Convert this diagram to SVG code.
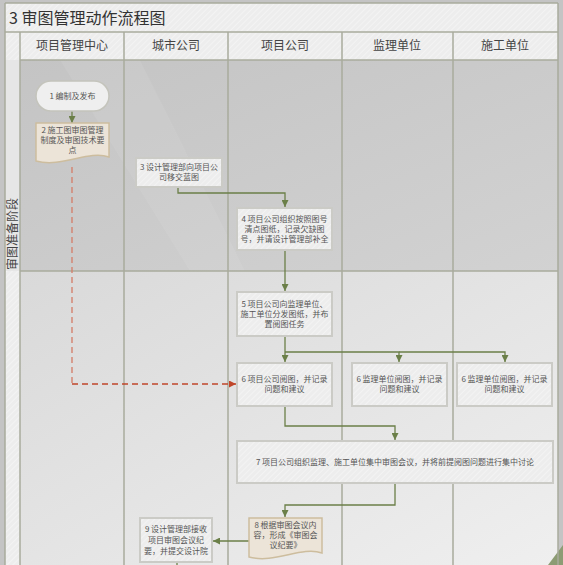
<svg xmlns="http://www.w3.org/2000/svg" width="563" height="565" viewBox="0 0 563 565">
<defs>
  <pattern id="hatch" width="4" height="4" patternUnits="userSpaceOnUse" patternTransform="rotate(45)">
    <rect width="4" height="4" fill="#ededed"/>
    <line x1="0" y1="0" x2="0" y2="4" stroke="#f6f6f6" stroke-width="1.5"/>
  </pattern>
  <linearGradient id="gTop" x1="0" y1="0" x2="1" y2="1">
    <stop offset="0" stop-color="#c4c4c4"/>
    <stop offset="1" stop-color="#d2d2d2"/>
  </linearGradient>
  <linearGradient id="gBot" x1="0" y1="0" x2="1" y2="1">
    <stop offset="0" stop-color="#d9d9d9"/>
    <stop offset="1" stop-color="#efefef"/>
  </linearGradient>
  <marker id="arr" viewBox="0 0 10 10" refX="10" refY="5" markerWidth="7" markerHeight="7" orient="auto" markerUnits="userSpaceOnUse">
    <path d="M0,0 L10,5 L0,10 Z" fill="#6b7f48"/>
  </marker>
  <marker id="arrRed" viewBox="0 0 10 10" refX="10" refY="5" markerWidth="7" markerHeight="7" orient="auto" markerUnits="userSpaceOnUse">
    <path d="M0,0 L10,5 L0,10 Z" fill="#c0462a"/>
  </marker>
  <style>
    .lane { stroke: #a9ab9d; stroke-width: 1.5; fill: none; }
    .box { fill: url(#hatch); stroke: #cbcbc6; stroke-width: 2; }
    .doc { fill: #ece4d8; stroke: #cdbd9e; stroke-width: 1.5; }
    .pill { fill: #efefef; stroke: #c4c4bc; stroke-width: 1.5; }
    .t { font-family: "Noto Sans CJK SC", "Noto Sans", sans-serif; font-size: 8px; fill: #555; text-anchor: middle; }
    .h { font-family: "Noto Sans CJK SC", "Noto Sans", sans-serif; font-size: 12px; fill: #444; text-anchor: middle; }
    .c { stroke: #6b7f48; stroke-width: 1.3; fill: none; }
  </style>
</defs>

<!-- background -->
<rect x="0" y="0" width="563" height="565" fill="#c4c4c4"/>
<rect x="5" y="3" width="553" height="29" fill="url(#hatch)"/>
<rect x="5" y="32" width="553" height="28" fill="url(#hatch)"/>
<rect x="20" y="60" width="538" height="211" fill="url(#gTop)"/>
<polygon points="60,60 140,60 245,271 190,271" fill="#ffffff" opacity="0.07"/>
<rect x="20" y="271" width="538" height="294" fill="url(#gBot)"/>
<rect x="5" y="60" width="15" height="211" fill="#e6e6e6"/>
<rect x="5" y="271" width="15" height="294" fill="url(#hatch)"/>
<polygon points="548,565 563,545 563,565" fill="#8d9c74"/>

<!-- title -->
<text x="9" y="24" font-family="'Noto Sans CJK SC', 'Noto Sans', sans-serif" font-size="16" fill="#333">3 审图管理动作流程图</text>

<!-- lanes -->
<g id="lanes">
  <line class="lane" x1="5" y1="3" x2="558" y2="3"/>
  <line class="lane" x1="5" y1="3" x2="5" y2="565"/>
  <line class="lane" x1="558" y1="3" x2="558" y2="565"/>
  <line class="lane" x1="5" y1="32" x2="558" y2="32"/>
  <line class="lane" x1="20" y1="60" x2="558" y2="60"/>
  <line class="lane" x1="20" y1="271" x2="558" y2="271"/>
  <line class="lane" x1="20" y1="32" x2="20" y2="565"/>
  <line class="lane" x1="124" y1="32" x2="124" y2="565"/>
  <line class="lane" x1="228" y1="32" x2="228" y2="565"/>
  <line class="lane" x1="342" y1="32" x2="342" y2="565"/>
  <line class="lane" x1="453" y1="32" x2="453" y2="565"/>
  <text class="h" x="72" y="50">项目管理中心</text>
  <text class="h" x="176" y="50">城市公司</text>
  <text class="h" x="285" y="50">项目公司</text>
  <text class="h" x="397" y="50">监理单位</text>
  <text class="h" x="505" y="50">施工单位</text>
  <text class="h" x="0" y="0" transform="translate(16.5,234) rotate(-90)">审图准备阶段</text>
</g>

<!-- connectors -->
<g id="connectors">
  <line class="c" x1="72" y1="111" x2="72" y2="123" marker-end="url(#arr)"/>
  <line x1="72" y1="167" x2="72" y2="384" stroke="#d4826e" stroke-width="1.4" stroke-dasharray="6,4"/>
  <polyline points="72,384 236,384" fill="none" stroke="#c0462a" stroke-width="1.4" stroke-dasharray="6,4" marker-end="url(#arrRed)"/>
  <polyline class="c" points="178,187 178,193 285,193 285,207" marker-end="url(#arr)"/>
  <line class="c" x1="285" y1="250" x2="285" y2="291" marker-end="url(#arr)"/>
  <line class="c" x1="285" y1="336" x2="285" y2="362" marker-end="url(#arr)"/>
  <polyline class="c" points="285,352 399,352 399,362" marker-end="url(#arr)"/>
  <polyline class="c" points="399,352 505,352 505,362" marker-end="url(#arr)"/>
  <polyline class="c" points="285,406 285,426 395,426 395,440" marker-end="url(#arr)"/>
  <polyline class="c" points="395,483 395,505 285,505 285,517" marker-end="url(#arr)"/>
  <line class="c" x1="249" y1="541" x2="213" y2="541" marker-end="url(#arr)"/>
  <line class="c" x1="177" y1="562" x2="177" y2="565"/>
</g>

<!-- nodes -->
<g id="n1">
  <rect class="pill" x="36" y="81" width="73" height="30" rx="15"/>
  <text class="t" x="72.5" y="99">1 编制及发布</text>
</g>
<g id="n2">
  <path class="doc" d="M36,123 H109 V157 C88,150 62,168 36,161 Z"/>
  <text class="t" x="72.5" y="133">2 施工图审图管理</text>
  <text class="t" x="72.5" y="143">制度及审图技术要</text>
  <text class="t" x="72.5" y="153">点</text>
</g>
<g id="n3">
  <rect class="box" x="136" y="158" width="86" height="29"/>
  <text class="t" x="179" y="170">3 设计管理部向项目公</text>
  <text class="t" x="179" y="180">司移交蓝图</text>
</g>
<g id="n4">
  <rect class="box" x="237" y="208" width="95" height="42"/>
  <text class="t" x="284.5" y="222">4 项目公司组织按照图号</text>
  <text class="t" x="284.5" y="232">清点图纸，记录欠缺图</text>
  <text class="t" x="284.5" y="242">号，并请设计管理部补全</text>
</g>
<g id="n5">
  <rect class="box" x="237" y="292" width="95" height="44"/>
  <text class="t" x="284.5" y="307">5 项目公司向监理单位、</text>
  <text class="t" x="284.5" y="317">施工单位分发图纸，并布</text>
  <text class="t" x="284.5" y="327">置阅图任务</text>
</g>
<g id="n6a">
  <rect class="box" x="237" y="363" width="95" height="43"/>
  <text class="t" x="284.5" y="382">6 项目公司阅图，并记录</text>
  <text class="t" x="284.5" y="392">问题和建议</text>
</g>
<g id="n6b">
  <rect class="box" x="352" y="363" width="95" height="43"/>
  <text class="t" x="399.5" y="382">6 监理单位阅图，并记录</text>
  <text class="t" x="399.5" y="392">问题和建议</text>
</g>
<g id="n6c">
  <rect class="box" x="457" y="363" width="95" height="43"/>
  <text class="t" x="504.5" y="382">6 监理单位阅图，并记录</text>
  <text class="t" x="504.5" y="392">问题和建议</text>
</g>
<g id="n7">
  <rect class="box" x="237" y="441" width="316" height="42"/>
  <text class="t" x="395" y="465">7 项目公司组织监理、施工单位集中审图会议，并将前提阅图问题进行集中讨论</text>
</g>
<g id="n8">
  <path class="doc" d="M249,518 H322 V553 C301,546 275,564 249,557 Z"/>
  <text class="t" x="285.5" y="528">8 根据审图会议内</text>
  <text class="t" x="285.5" y="538">容，形成《审图会</text>
  <text class="t" x="285.5" y="548">议纪要》</text>
</g>
<g id="n9">
  <rect class="box" x="140" y="518" width="72" height="44"/>
  <text class="t" x="176" y="532">9 设计管理部接收</text>
  <text class="t" x="176" y="543">项目审图会议纪</text>
  <text class="t" x="176" y="554">要，并提交设计院</text>
</g>
</svg>
